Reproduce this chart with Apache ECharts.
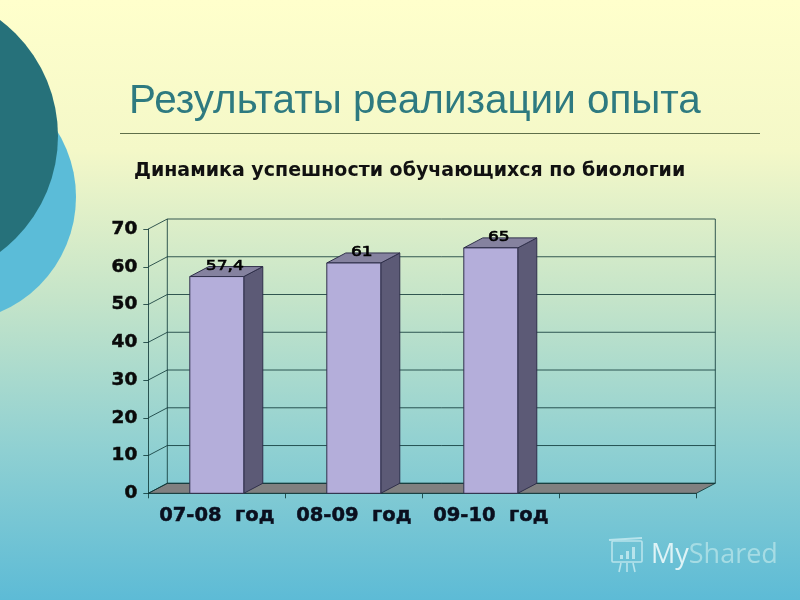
<!DOCTYPE html>
<html><head><meta charset="utf-8">
<style>html,body{margin:0;padding:0;background:#fff}#c{width:800px;height:600px}</style>
<script src="https://cdn.jsdelivr.net/npm/echarts@6/dist/echarts.min.js"></script>
</head><body><div id="c"></div>
<script>
const categories = ['07-08  год', '08-09  год', '09-10  год', ''];
const values = [57.4, 61, 65];
const valueLabels = ['57,4', '61', '65'];
const yTicks = [0, 10, 20, 30, 40, 50, 60, 70];
const titleText = 'Результаты реализации опыта';
const subtitleText = 'Динамика успешности обучающихся по биологии';

const DX = 19, DY = -10;
const LINE = 'rgba(10,50,50,0.8)';

function wallItem(params, api) {
  const v = api.value(1);
  const cs = params.coordSys;
  const p = api.coord([0, v]);
  const y = p[1];
  const x0 = cs.x, x1 = cs.x + cs.width;
  const ls = {stroke: LINE, lineWidth: 1, fill: null};
  const kids = [
    {type: 'line', shape: {x1: x0, y1: y, x2: x0 + DX, y2: y + DY}, style: ls},
    {type: 'line', shape: {x1: x0 + DX, y1: y + DY, x2: x1 + DX, y2: y + DY}, style: ls}
  ];
  if (v === 0) {
    kids.unshift({type: 'polygon', shape: {points: [[x0, y], [x1, y], [x1 + DX, y + DY], [x0 + DX, y + DY]]},
      style: {fill: '#808080', stroke: LINE, lineWidth: 1}});
    kids.push({type: 'line', shape: {x1: x0 + DX, y1: y + DY, x2: x0 + DX, y2: cs.y + DY}, style: ls});
    kids.push({type: 'line', shape: {x1: x1 + DX, y1: y + DY, x2: x1 + DX, y2: cs.y + DY}, style: ls});
  }
  return {type: 'group', children: kids};
}

function barItem(params, api) {
  const c = api.value(0), v = api.value(1);
  const top = api.coord([c, v]), base = api.coord([c, 0]);
  const w = api.size([1, 0])[0] * 0.394;
  const l = top[0] - w / 2, r = top[0] + w / 2, t = top[1], b = base[1];
  const edge = '#2f2f4a';
  return {type: 'group', children: [
    {type: 'polygon', shape: {points: [[r, t], [r + DX, t + DY], [r + DX, b + DY], [r, b]]},
      style: {fill: '#5c5a76', stroke: edge, lineWidth: 1}},
    {type: 'polygon', shape: {points: [[l, t], [r, t], [r + DX, t + DY], [l + DX, t + DY]]},
      style: {fill: '#85829f', stroke: edge, lineWidth: 1}},
    {type: 'rect', shape: {x: l, y: t, width: r - l, height: b - t},
      style: {fill: '#b4aeda', stroke: edge, lineWidth: 1}},
    {type: 'text', x: top[0] + 8, y: t - 10.5, scaleX: 1.22, z2: 5,
      style: {text: valueLabels[params.dataIndex], align: 'center', verticalAlign: 'middle',
        font: '400 14px "DejaVu Sans"', fill: '#000', stroke: '#000', lineWidth: 0.6}}
  ]};
}

const chart = echarts.init(document.getElementById('c'), null, {renderer: 'canvas'});
chart.setOption({
  animation: false,
  backgroundColor: {type: 'linear', x: 0, y: 0, x2: 0, y2: 1, colorStops: [
    {offset: 0, color: '#ffffcc'}, {offset: 0.25, color: '#f4f8c8'}, {offset: 0.5, color: '#c4e4c9'},
    {offset: 0.75, color: '#8fd0d2'}, {offset: 1, color: '#5dbbd6'}]},
  graphic: [
    {type: 'circle', z: -1, shape: {cx: -49, cy: 197, r: 125}, style: {fill: '#5bbcd8'}},
    {type: 'circle', z: -1, shape: {cx: -87, cy: 136, r: 145}, style: {fill: '#26717a'}},
    {type: 'text', x: 129, y: 122, style: {text: titleText, font: '400 40.4px "Liberation Sans"', fill: '#2e7a80', verticalAlign: 'bottom'}},
    {type: 'line', shape: {x1: 120, y1: 133.5, x2: 760, y2: 133.5}, style: {stroke: '#5f6f4a', lineWidth: 1}},
    {type: 'text', x: 134, y: 171, style: {text: subtitleText, font: '700 19px "DejaVu Sans"', fill: '#111', verticalAlign: 'middle'}},
    {type: 'group', x: 608, y: 537, children: [
      {type: 'rect', shape: {x: 4, y: 4, width: 30, height: 21, r: 1}, style: {fill: null, stroke: '#b8e4ec', lineWidth: 1.6}},
      {type: 'line', shape: {x1: 1, y1: 3, x2: 34, y2: 1}, style: {stroke: '#b8e4ec', lineWidth: 2}},
      {type: 'rect', shape: {x: 12, y: 18, width: 3, height: 4}, style: {fill: '#b8e4ec'}},
      {type: 'rect', shape: {x: 18, y: 14, width: 3, height: 8}, style: {fill: '#b8e4ec'}},
      {type: 'rect', shape: {x: 24, y: 10, width: 3, height: 12}, style: {fill: '#b8e4ec'}},
      {type: 'line', shape: {x1: 13, y1: 26, x2: 11, y2: 35}, style: {stroke: '#b8e4ec', lineWidth: 1.6}},
      {type: 'line', shape: {x1: 19, y1: 26, x2: 19, y2: 35}, style: {stroke: '#b8e4ec', lineWidth: 1.6}},
      {type: 'line', shape: {x1: 25, y1: 26, x2: 27, y2: 35}, style: {stroke: '#b8e4ec', lineWidth: 1.6}}
    ]},
    {type: 'text', x: 651, y: 555, style: {text: '{a|My}{b|Shared}', verticalAlign: 'middle',
      rich: {a: {font: '400 27px "Open Sans"', fill: '#dff3f6', color: '#dff3f6'}, b: {font: '400 27px "Open Sans"', fill: '#a6dce4', color: '#a6dce4'}}}}
  ],
  grid: {left: 148.3, right: 103.7, top: 229, bottom: 106.7},
  xAxis: {type: 'category', data: categories, boundaryGap: true,
    axisLine: {show: true, lineStyle: {color: LINE, width: 1}},
    axisTick: {show: true, length: 5, lineStyle: {color: LINE, width: 1}},
    axisLabel: {interval: 0, margin: 13, color: '#0a0f1e', fontFamily: 'DejaVu Sans', fontWeight: 'bold', fontSize: 19.5, textBorderColor: '#0a0f1e', textBorderWidth: 0.5}},
  yAxis: {type: 'value', min: 0, max: 70, interval: 10,
    axisLine: {show: true, lineStyle: {color: LINE, width: 1}},
    axisTick: {show: true, length: 5, lineStyle: {color: LINE, width: 1}},
    splitLine: {show: false},
    axisLabel: {margin: 11, color: '#0a0a0a', fontFamily: 'DejaVu Sans', fontWeight: 'bold', fontSize: 18.5, textBorderColor: '#0a0a0a', textBorderWidth: 0.5}},
  series: [
    {type: 'custom', z: 1, silent: true, clip: false, renderItem: wallItem, data: yTicks.map(v => [0, v])},
    {type: 'custom', z: 2, silent: true, clip: false, renderItem: barItem, data: values.map((v, i) => [i, v])}
  ]
});
</script></body></html>
